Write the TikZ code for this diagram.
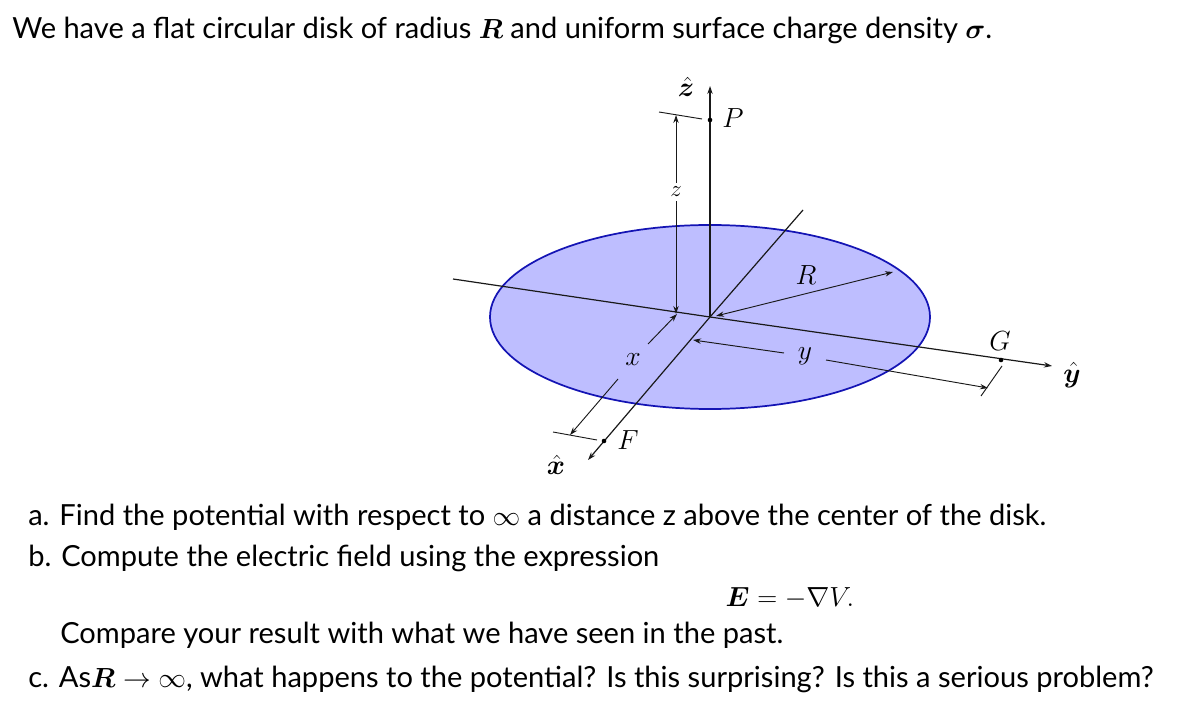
\documentclass[tikz,border=0pt]{standalone}
\usepackage{fontspec}
\setmainfont{Lato}
\usepackage{amsmath}
\usepackage{bm}
\usetikzlibrary{arrows.meta}
\definecolor{diskfill}{RGB}{190,190,255}
\definecolor{diskline}{RGB}{20,20,180}
\begin{document}
\begin{tikzpicture}[x=0.75pt,y=-0.75pt,
  ax/.style={draw=black!90,line width=0.9pt},
  dim/.style={draw=black!90,line width=0.7pt},
  tip/.style={-{Stealth[length=6pt,width=4pt]}},
  dtip/.style={{Stealth[length=6pt,width=4pt]}-{Stealth[length=6pt,width=4pt]}},
  lab/.style={font=\fontsize{20}{22}\selectfont,inner sep=0pt},
  txt/.style={anchor=west,inner sep=0pt,font=\fontsize{21.8}{24}\selectfont}]
\useasboundingbox (0,0) rectangle (1187,705);
% disk
\filldraw[fill=diskfill,draw=diskline,line width=1.3pt] (710,317) ellipse[x radius=220,y radius=92];
% coordinates
\coordinate (O) at (710,317);
\coordinate (yb) at (453,279);
\coordinate (ye) at (1052,366);
\coordinate (xb) at (803,210);
\coordinate (xe) at (588,460);
\coordinate (ze) at (710,86);
\coordinate (Pp) at (710,120);
\coordinate (Ff) at (604,441);
\coordinate (Gg) at (1001,360);
% axes
\draw[ax] (yb) -- (O);
\draw[ax,tip] (O) -- (ye);
\draw[ax] (xb) -- (O);
\draw[ax,tip] (O) -- (xe);
\draw[ax,tip] (O) -- (ze);
\fill (Pp) circle (2.3);
\fill (Ff) circle (2.3);
\fill (Gg) circle (2.3);
\node[lab,anchor=west] (P) at (722,118) {$P$};
\node[lab] (zh) at (686,87) {$\hat{\bm z}$};
\node[lab] (F) at (628,440) {$F$};
\node[lab] (xh) at (556,465) {$\hat{\bm x}$};
\node[lab] (G) at (1000,341) {$G$};
\node[lab] (yh) at (1072,375) {$\hat{\bm y}$};
% z dimension
\coordinate (zt1) at (659,112);
\coordinate (zt2) at (702,119);
\draw[dim] (zt1) -- (zt2);
\coordinate (zdt) at (676,115);
\coordinate (zdb) at (676,314);
\node[lab,font=\fontsize{18}{20}\selectfont,inner sep=3pt] (zl) at (676,192) {$z$};
\draw[dim,tip] (zl.north) -- (zdt);
\draw[dim,tip] (zl.south) -- (zdb);
% x dimension
\coordinate (xt1) at (553,432);
\coordinate (xt2) at (597,440);
\draw[dim] (xt1) -- (xt2);
\coordinate (xdt) at (677,314);
\coordinate (xdb) at (570,435);
\node[lab] (xl) at (633,360) {$x$};
\draw[dim,tip] (648,344) -- (xdt);
\draw[dim,tip] (618,379) -- (xdb);
% y dimension
\coordinate (yt1) at (981,396);
\coordinate (yt2) at (1002,366);
\draw[dim] (yt1) -- (yt2);
\coordinate (ydl) at (693,340);
\coordinate (ydr) at (988,388);
\node[lab] (yl) at (805,356) {$y$};
\draw[dim,tip] (784,353) -- (ydl);
\draw[dim,tip] (826,360) -- (ydr);
% R
\coordinate (R1) at (716,316);
\coordinate (R2) at (893,272);
\draw[dim,dtip] (R1) -- (R2);
\node[lab] (Rl) at (806,275) {$R$};
% texts
\node[txt] (t0) at (12,30) {We have a flat circular disk of radius $\bm R$ and uniform surface charge density $\bm\sigma$.};
\node[txt] (t1) at (28,517) {a. Find the potential with respect to $\infty$ a distance z above the center of the disk.};
\node[txt] (t2) at (28,558) {b. Compute the electric field using the expression};
\node[txt,anchor=center] (t3) at (790,598) {$\bm E=-\nabla V.$};
\node[txt] (t4) at (60,635) {Compare your result with what we have seen in the past.};
\node[txt] (t5) at (28,679) {c. As$\bm R\rightarrow\infty$, what happens to the potential? Is this surprising? Is this a serious problem?};
\end{tikzpicture}
\end{document}
